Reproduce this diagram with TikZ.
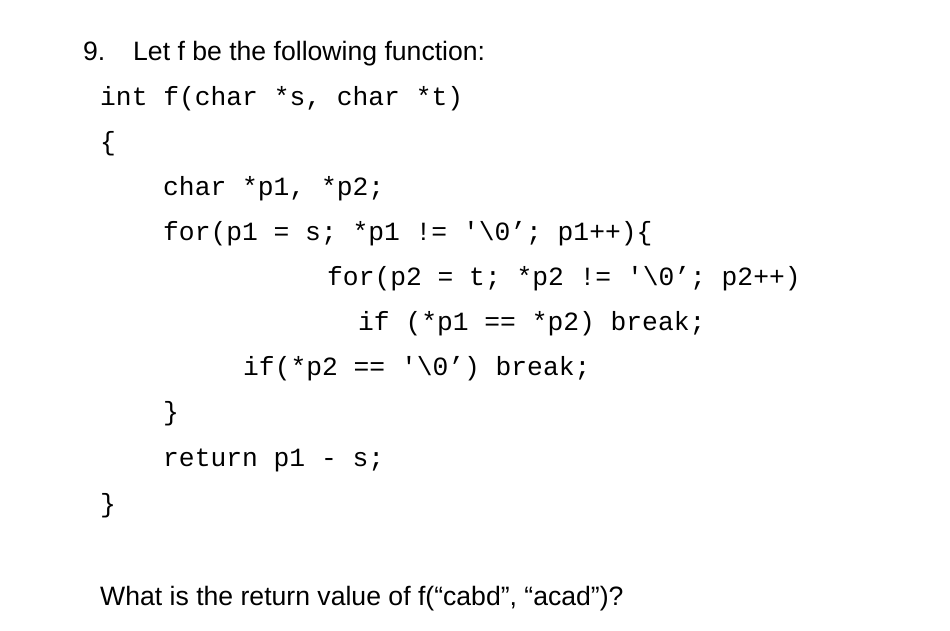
\documentclass[tikz,border=0pt]{standalone}
\usepackage{fontspec}
\setmainfont{Liberation Sans}
\setmonofont{Liberation Mono}
\begin{document}
\begin{tikzpicture}[x=1pt,y=-1pt,
  txt/.style={anchor=base west,inner sep=0pt,font=\fontsize{26.6}{30}\selectfont},
  code/.style={anchor=base west,inner sep=0pt,font=\ttfamily\fontsize{26.3}{30}\selectfont}]
\useasboundingbox[fill=white] (0,0) rectangle (950,630);
\node[txt] (num) at (83,60) {9.};
\node[txt] (head) at (133,60) {Let f be the following function:};
\node[code] (l1) at (100,105) {int f(char *s, char *t)};
\node[code] (l2) at (100,150) {\{};
\node[code] (l3) at (163,195) {char *p1, *p2;};
\node[code] (l4) at (163,240) {for(p1 = s; *p1 != '\textbackslash 0’; p1++)\{};
\node[code] (l5) at (327,285) {for(p2 = t; *p2 != '\textbackslash 0’; p2++)};
\node[code] (l6) at (358,330) {if (*p1 == *p2) break;};
\node[code] (l7) at (243,375) {if(*p2 == '\textbackslash 0’) break;};
\node[code] (l8) at (163,420) {\}};
\node[code] (l9) at (163,466) {return p1 - s;};
\node[code] (l10) at (100,512) {\}};
\node[txt] (q) at (100,605) {What is the return value of f(“cabd”, “acad”)?};
\end{tikzpicture}
\end{document}
